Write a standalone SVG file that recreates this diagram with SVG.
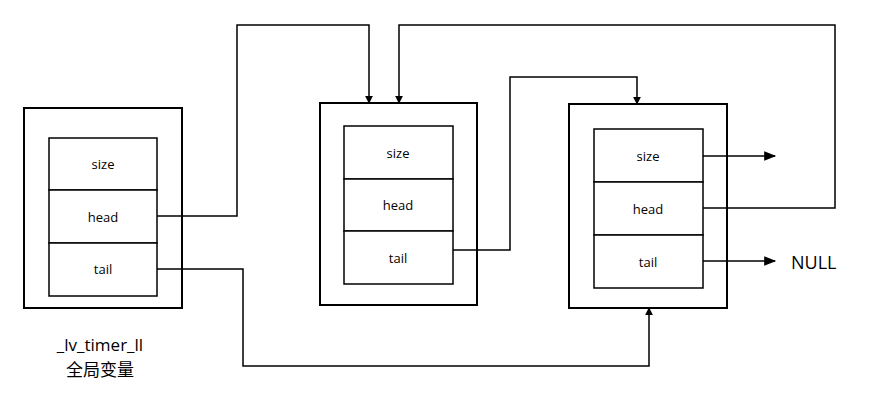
<svg xmlns="http://www.w3.org/2000/svg" width="878" height="410" viewBox="0 0 878 410">
<style>
.b{fill:#fff;stroke:#000;stroke-width:2}
.c{fill:#fff;stroke:#000;stroke-width:1.5}
.t{font-family:"Open Sans","Liberation Sans","Noto Sans CJK SC",sans-serif;font-size:13px;text-anchor:middle;dominant-baseline:central}
.l{fill:none;stroke:#000;stroke-width:1.5}
</style>
<defs><marker id="a" viewBox="0 0 10 10" refX="9" refY="5" markerWidth="8" markerHeight="8" markerUnits="userSpaceOnUse" orient="auto"><path d="M0,0L10,5L0,10z" fill="#000"/></marker>
<marker id="a2" viewBox="0 0 10 10" refX="9" refY="5" markerWidth="18" markerHeight="12" markerUnits="userSpaceOnUse" orient="auto"><path d="M0,1L10,5L0,9z" fill="#000"/></marker></defs>
<rect width="878" height="410" fill="#fff"/>
<g id="node1"><rect class="b" x="24" y="108" width="158" height="200"/>
<rect class="c" x="49" y="138" width="108" height="52"/><text class="t" x="103" y="164">size</text>
<rect class="c" x="49" y="190" width="108" height="53"/><text class="t" x="103" y="217">head</text>
<rect class="c" x="49" y="243" width="108" height="53"/><text class="t" x="103" y="269">tail</text></g>
<g id="node2"><rect class="b" x="320" y="103" width="157" height="202"/>
<rect class="c" x="344" y="126" width="109" height="53"/><text class="t" x="398" y="153">size</text>
<rect class="c" x="344" y="179" width="109" height="52"/><text class="t" x="398" y="205">head</text>
<rect class="c" x="344" y="231" width="109" height="53"/><text class="t" x="398" y="258">tail</text></g>
<g id="node3"><rect class="b" x="569" y="104" width="158" height="204"/>
<rect class="c" x="594" y="129" width="109" height="53"/><text class="t" x="648" y="156">size</text>
<rect class="c" x="594" y="182" width="109" height="53"/><text class="t" x="648" y="209">head</text>
<rect class="c" x="594" y="235" width="109" height="53"/><text class="t" x="648" y="262">tail</text></g>
<g id="label"><text x="100" y="344" style="font-family:'Open Sans','Liberation Sans','Noto Sans CJK SC',sans-serif;font-size:17px;text-anchor:middle;dominant-baseline:central">_lv_timer_ll</text>
<text x="100" y="368" style="font-family:'Noto Sans CJK SC',sans-serif;font-size:17px;text-anchor:middle;dominant-baseline:central">全局变量</text>
<text x="791" y="262" style="font-family:'Open Sans','Liberation Sans',sans-serif;font-size:18px;dominant-baseline:central">NULL</text></g>
<g id="connectors">
<path class="l" d="M157,216H237V25H369V103" marker-end="url(#a)"/>
<path class="l" d="M157,269H243V366H649V308" marker-end="url(#a)"/>
<path class="l" d="M453,250H510V77H637V104" marker-end="url(#a)"/>
<path class="l" d="M703,208H835V25H399V103" marker-end="url(#a)"/>
<path class="l" d="M703,156H775" marker-end="url(#a2)"/>
<path class="l" d="M703,261H775" marker-end="url(#a2)"/>
</g>
</svg>
